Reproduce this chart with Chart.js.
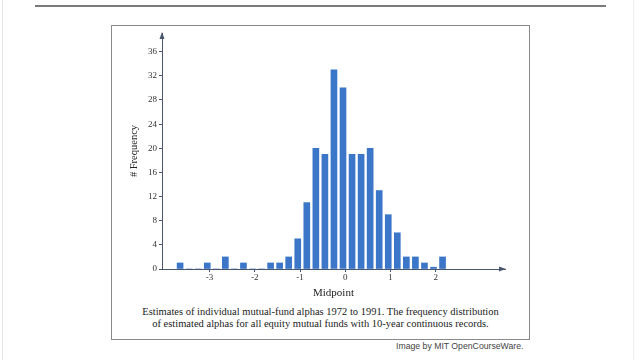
<!DOCTYPE html>
<html><head><meta charset="utf-8">
<script src="https://cdn.jsdelivr.net/npm/chart.js@4"></script>
<style>
html,body{margin:0;padding:0;background:#fff;width:640px;height:360px;overflow:hidden;position:relative;font-family:"Liberation Serif",serif}
#edgeL{position:absolute;left:2px;top:0;width:0;height:360px;border-left:1px solid #e4e4e4}
#edgeR{position:absolute;left:633px;top:0;width:0;height:360px;border-left:1px solid #eeeeee}
#topline{position:absolute;left:35px;top:5px;width:571px;height:0;border-top:2px solid #7a7a7a}
#box{position:absolute;left:111px;top:25px;width:417px;height:313px;border:1px solid #8a8a8a}
#cap{position:absolute;left:111px;width:419px;top:306px;text-align:center;font-size:10.5px;line-height:12px;color:#222}
#credit{position:absolute;left:396px;top:341px;font-family:"Liberation Sans",sans-serif;font-size:8.7px;color:#444;white-space:nowrap}
canvas{position:absolute;left:0;top:0}
</style></head>
<body>
<div id="edgeL"></div><div id="edgeR"></div>
<div id="topline"></div>
<div id="box"></div>
<div id="cap">Estimates of individual mutual-fund alphas 1972 to 1991. The frequency distribution<br>of estimated alphas for all equity mutual funds with 10-year continuous records.</div>
<div id="credit">Image by MIT OpenCourseWare.</div>
<canvas id="c" width="640" height="360"></canvas>
<script>
const midpoints = [-3.65,-3.45,-3.25,-3.05,-2.85,-2.65,-2.45,-2.25,-2.05,-1.85,-1.65,-1.45,-1.25,-1.05,-0.85,-0.65,-0.45,-0.25,-0.05,0.15,0.35,0.55,0.75,0.95,1.15,1.35,1.55,1.75,1.95,2.15];
const frequencies = [1,0,0,1,0,2,0,1,0,0,1,1,2,5,11,20,19,33,30,19,19,20,13,9,6,2,2,1,0.3,2];
const xTickValues = [-3,-2,-1,0,1,2];
const yTickValues = [0,4,8,12,16,20,24,28,32,36];
const xTitle = 'Midpoint';
const yTitle = '# Frequency';

const axisColor = '#4a5570';
const arrows = {
  id:'arrows',
  afterDraw(chart){
    const {ctx, chartArea:a} = chart;
    ctx.save();
    ctx.fillStyle = axisColor;
    ctx.beginPath();
    ctx.moveTo(a.left, a.top-1);
    ctx.lineTo(a.left-2.5, a.top+6);
    ctx.lineTo(a.left+2.5, a.top+6);
    ctx.closePath(); ctx.fill();
    ctx.beginPath();
    ctx.moveTo(a.right+1, a.bottom);
    ctx.lineTo(a.right-6, a.bottom-2.5);
    ctx.lineTo(a.right-6, a.bottom+2.5);
    ctx.closePath(); ctx.fill();
    ctx.restore();
  }
};

new Chart(document.getElementById('c'), {
  type:'bar',
  data:{datasets:[{
    data: midpoints.map((m,i)=>({x:m,y:frequencies[i]})),
    backgroundColor:'#3b76c8',
    borderWidth:0,
    barThickness:6
  }]},
  options:{
    responsive:false, animation:false,
    layout:{padding:{left:122,right:135,top:33,bottom:60}},
    plugins:{legend:{display:false},tooltip:{enabled:false}},
    scales:{
      x:{type:'linear',min:-4.05,max:3.53,offset:false,
        afterBuildTicks:s=>{s.ticks=xTickValues.map(v=>({value:v}));},
        afterFit:s=>{s.height=31;},
        grid:{display:true,offset:false,drawOnChartArea:false,drawTicks:true,tickLength:3,color:axisColor},
        border:{display:true,color:axisColor,width:1},
        ticks:{font:{family:'Liberation Serif',size:9},color:'#333',padding:0,maxRotation:0,autoSkip:false},
        title:{display:true,text:xTitle,font:{family:'Liberation Serif',size:11},color:'#222',padding:{top:0,bottom:0}}
      },
      y:{min:0,max:39.1,
        afterBuildTicks:s=>{s.ticks=yTickValues.map(v=>({value:v}));},
        afterFit:s=>{s.width=40;},
        grid:{display:true,drawOnChartArea:false,drawTicks:true,tickLength:3,color:axisColor},
        border:{display:true,color:axisColor,width:1},
        ticks:{font:{family:'Liberation Serif',size:9},color:'#333',padding:2,autoSkip:false},
        title:{display:true,text:yTitle,font:{family:'Liberation Serif',size:10.5},color:'#222',padding:{top:6,bottom:0}}
      }
    }
  },
  plugins:[arrows]
});
</script>
</body></html>
